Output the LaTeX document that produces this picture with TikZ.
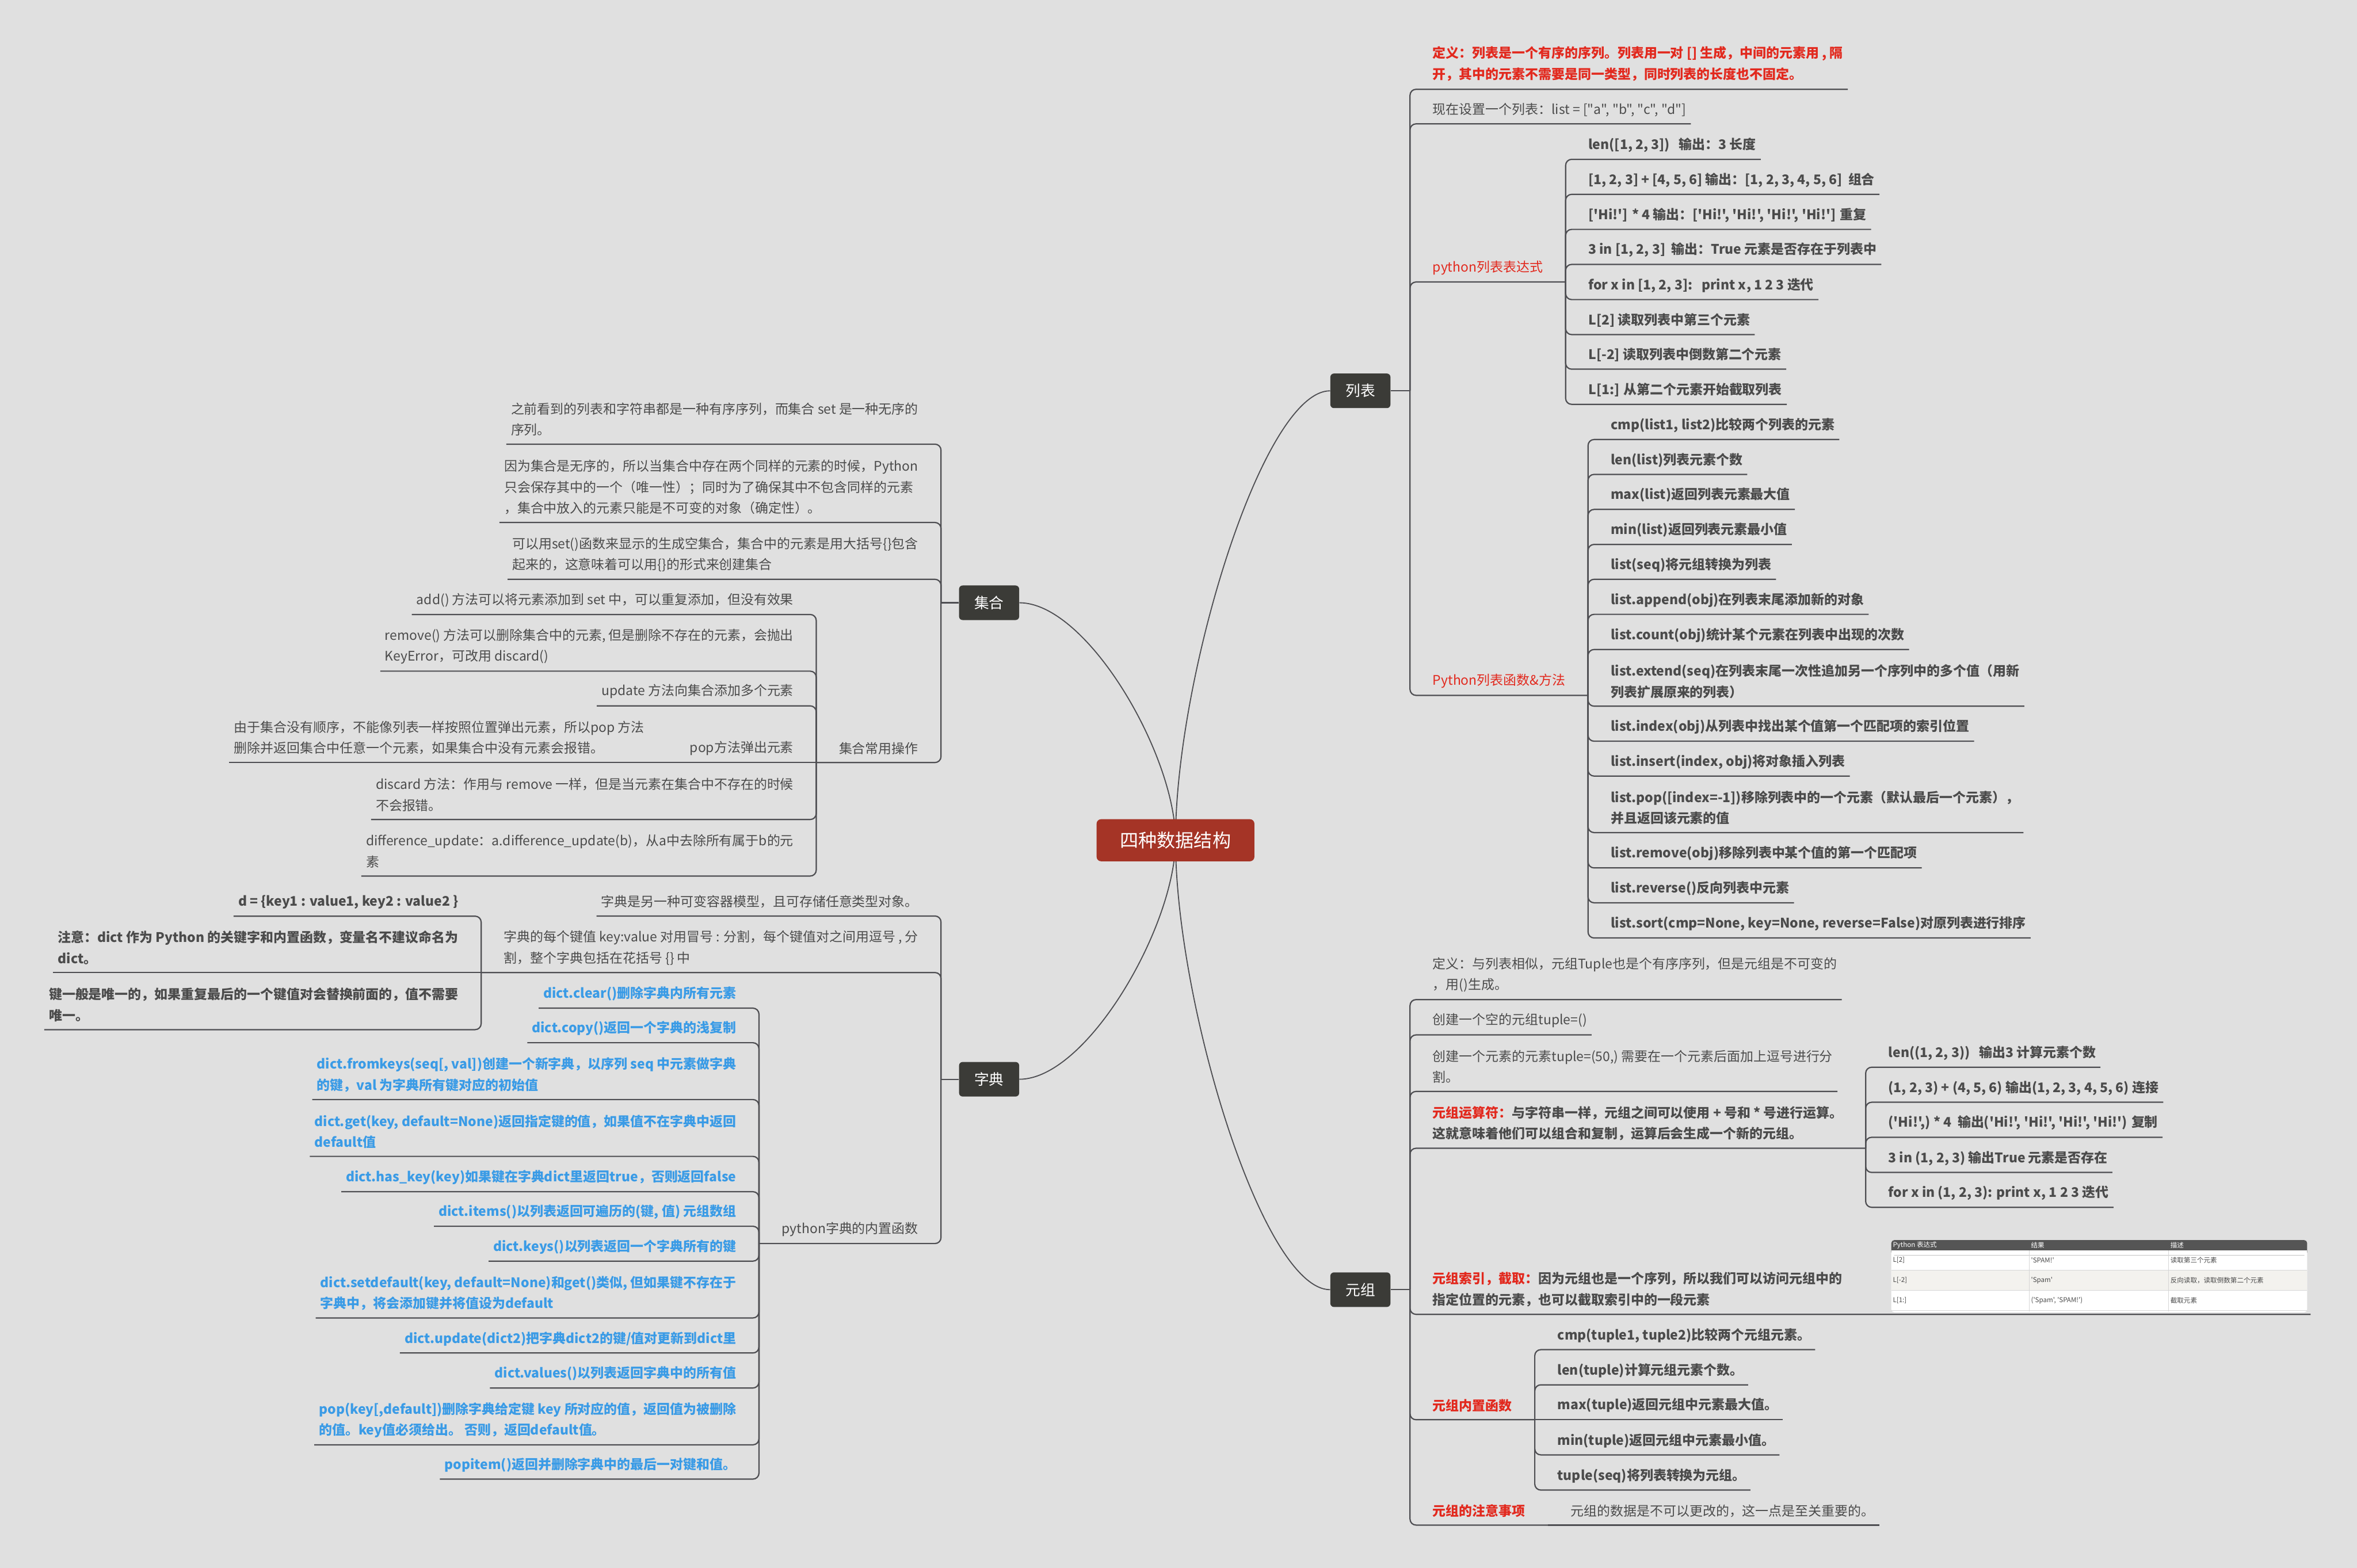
\documentclass[tikz,border=0pt]{standalone}
\usepackage{fontspec}
\newfontfamily\cjk{Noto Sans CJK SC}
\usetikzlibrary{backgrounds}

\definecolor{cBg}{HTML}{E0E0E0}
\definecolor{cLine}{HTML}{4E4E52}
\definecolor{cText}{HTML}{4B4B4B}
\definecolor{cRed}{HTML}{E2291E}
\definecolor{cBlue}{HTML}{3A9BE6}
\definecolor{cRoot}{HTML}{A53426}
\definecolor{cMain}{HTML}{3B3B37}
\definecolor{cHead}{HTML}{555555}
\definecolor{cRow}{HTML}{F3F2EE}
\definecolor{cGrid}{HTML}{D6D6D6}

\def\tfont{\cjk\fontsize{12.5}{19.9}\selectfont}

\begin{document}
\begin{tikzpicture}[x=0.05cm, y=-0.05cm, font=\tfont,
  link/.style={draw=cLine, line width=1.2pt, rounded corners=0.2cm},
  rootlink/.style={draw=cLine, line width=1pt},
  rtopic/.style={anchor=west, inner xsep=0.15cm, inner ysep=0pt, align=left, text=cText},
  ltopic/.style={anchor=east, inner xsep=0.15cm, inner ysep=0pt, align=left, text=cText},
  strong/.style={font=\tfont\bfseries},
  main/.style={fill=cMain, text=white, rounded corners=0.12cm, minimum width=2cm,
    minimum height=1.15cm, inner sep=0pt, font=\cjk\fontsize{14}{16}\selectfont},
  root/.style={fill=cRoot, text=white, rounded corners=0.15cm, minimum width=5.25cm,
    minimum height=1.4cm, inner sep=0pt, font=\cjk\fontsize{17.5}{20}\selectfont},
  tabtxt/.style={anchor=west, inner xsep=0.05cm, inner ysep=0pt, text=cText,
    font=\cjk\fontsize{6.3}{7}\selectfont}]

\useasboundingbox (0,0) rectangle (1568,1043);

\node[root] (root) at (782,559) {四种数据结构};

%% ---------- 列表 ----------
\node[main] (list) at (905,260) {列表};
\coordinate (listJ) at (938,260);
\draw[link] (list) -- (listJ);

\path (listJ |- 0,42.5) ++(12,0) node[rtopic, strong, text=cRed] (lDef)
  {定义：列表是一个有序的序列。列表用一对 [] 生成，中间的元素用 , 隔\\开，其中的元素不需要是同一类型，同时列表的长度也不固定。};
\path (listJ |- 0,73) ++(12,0) node[rtopic] (lSet) {现在设置一个列表：list = ["a", "b", "c", "d"]};
\path (listJ |- 0,178.1) ++(12,0) node[rtopic, text=cRed] (lExpr) {python列表表达式};
\path (listJ |- 0,453.1) ++(12,0) node[rtopic, text=cRed] (lFunc) {Python列表函数\&方法};
\draw[link] (listJ) |- (lDef.east |- 0,59.4);
\draw[link] (listJ) |- (lSet.east |- 0,82.4);
\path (lExpr.east |- 0,187.6) ++(12,0) coordinate (lExprJ);
\path (lFunc.east |- 0,462.6) ++(12,0) coordinate (lFuncJ);
\draw[link] (listJ) |- (lExprJ);
\draw[link] (listJ) |- (lFuncJ);

\foreach \nm/\yc/\uy/\txt in {
  e1/96.5/106/{len([1, 2, 3])\ \ \ 输出：3 长度},
  e2/119.8/129.3/{[1, 2, 3] + [4, 5, 6] 输出：[1, 2, 3, 4, 5, 6]\ \ 组合},
  e3/143.1/152.6/{['Hi!'] * 4 输出：['Hi!', 'Hi!', 'Hi!', 'Hi!'] 重复},
  e4/166.4/175.9/{3 in [1, 2, 3]\ \ 输出：True 元素是否存在于列表中},
  e5/189.8/199.3/{for x in [1, 2, 3]:\ \ \ print x, 1 2 3 迭代},
  e6/213.1/222.6/{L[2] 读取列表中第三个元素},
  e7/236.1/245.6/{L[-2] 读取列表中倒数第二个元素},
  e8/259.5/269/{L[1:] 从第二个元素开始截取列表}} {
  \path (lExprJ |- 0,\yc) ++(12,0) node[rtopic, strong] (\nm) {\txt};
  \draw[link] (lExprJ) |- (\nm.east |- 0,\uy);
}

\foreach \nm/\yc/\uy/\txt in {
  f1/282.9/292.4/{cmp(list1, list2)比较两个列表的元素},
  f2/306.1/315.6/{len(list)列表元素个数},
  f3/329.4/338.9/{max(list)返回列表元素最大值},
  f4/352.7/362.2/{min(list)返回列表元素最小值},
  f5/375.9/385.4/{list(seq)将元组转换为列表},
  f6/399.2/408.7/{list.append(obj)在列表末尾添加新的对象},
  f7/422.6/432.1/{list.count(obj)统计某个元素在列表中出现的次数},
  f8/453.3/469.8/{list.extend(seq)在列表末尾一次性追加另一个序列中的多个值（用新\\列表扩展原来的列表）},
  f9/483.6/493.1/{list.index(obj)从列表中找出某个值第一个匹配项的索引位置},
  f10/506.8/516.3/{list.insert(index, obj)将对象插入列表},
  f11/537.4/553.9/{list.pop([index=-1])移除列表中的一个元素（默认最后一个元素），\\并且返回该元素的值},
  f12/567.9/577.4/{list.remove(obj)移除列表中某个值的第一个匹配项},
  f13/591.1/600.6/{list.reverse()反向列表中元素},
  f14/614.5/624/{list.sort(cmp=None, key=None, reverse=False)对原列表进行排序}} {
  \path (lFuncJ |- 0,\yc) ++(12,0) node[rtopic, strong] (\nm) {\txt};
  \draw[link] (lFuncJ) |- (\nm.east |- 0,\uy);
}

%% ---------- 元组 ----------
\node[main] (tuple) at (905,858) {元组};
\coordinate (tupleJ) at (938,858);
\draw[link] (tuple) -- (tupleJ);

\path (tupleJ |- 0,648.5) ++(12,0) node[rtopic] (tDef)
  {定义：与列表相似，元组Tuple也是个有序序列，但是元组是不可变的\\，用()生成。};
\path (tupleJ |- 0,679) ++(12,0) node[rtopic] (tEmpty) {创建一个空的元组tuple=()};
\path (tupleJ |- 0,709.6) ++(12,0) node[rtopic] (tOne)
  {创建一个元素的元素tuple=(50,) 需要在一个元素后面加上逗号进行分\\割。};
\path (tupleJ |- 0,747.4) ++(12,0) node[rtopic, strong] (tOp)
  {{\color{cRed}元组运算符：}与字符串一样，元组之间可以使用 + 号和 * 号进行运算。\\这就意味着他们可以组合和复制，运算后会生成一个新的元组。};
\path (tupleJ |- 0,857.9) ++(12,0) node[rtopic, strong] (tIdx)
  {{\color{cRed}元组索引，截取：}因为元组也是一个序列，所以我们可以访问元组中的\\指定位置的元素，也可以截取索引中的一段元素};
\path (tupleJ |- 0,935) ++(12,0) node[rtopic, strong, text=cRed] (tFn) {元组内置函数};
\path (tupleJ |- 0,1005.1) ++(12,0) node[rtopic, strong, text=cRed] (tNote) {元组的注意事项};
\draw[link] (tupleJ) |- (tDef.east |- 0,665);
\draw[link] (tupleJ) |- (tEmpty.east |- 0,688.5);
\draw[link] (tupleJ) |- (tOne.east |- 0,726.1);
\path (tOp.east |- 0,763.9) ++(12,0) coordinate (tOpJ);
\path (tFn.east |- 0,944.5) ++(12,0) coordinate (tFnJ);
\path (tNote.east |- 0,1014.6) ++(12,0) coordinate (tNoteJ);
\draw[link] (tupleJ) |- (tOpJ);
\draw[link] (tupleJ) |- (tFnJ);
\draw[link] (tupleJ) |- (tNoteJ);

\foreach \nm/\yc/\uy/\txt in {
  p1/700.5/710/{len((1, 2, 3))\ \ \ 输出3 计算元素个数},
  p2/723.8/733.3/{(1, 2, 3) + (4, 5, 6) 输出(1, 2, 3, 4, 5, 6) 连接},
  p3/747.1/756.6/{('Hi!',) * 4\ \ 输出('Hi!', 'Hi!', 'Hi!', 'Hi!') 复制},
  p4/770.5/780/{3 in (1, 2, 3) 输出True 元素是否存在},
  p5/793.7/803.2/{for x in (1, 2, 3): print x, 1 2 3 迭代}} {
  \path (tOpJ |- 0,\yc) ++(12,0) node[rtopic, strong] (\nm) {\txt};
  \draw[link] (tOpJ) |- (\nm.east |- 0,\uy);
}

%% table beside the index topic
\path (tIdx.east |- 0,825) ++(29.5,0) coordinate (tab);
\begin{scope}[shift={(tab)}]
  \fill[white, rounded corners=0.1cm] (0,0) rectangle (276.7,48);
  \fill[cHead, rounded corners=0.1cm] (0,0) rectangle (276.7,10);
  \fill[white] (0,6.9) rectangle (276.7,10);
  \fill[cRow] (0,20.1) rectangle (276.7,33.3);
  \draw[cGrid, line width=0.4pt] (0,20.1) -- (276.7,20.1) (0,33.3) -- (276.7,33.3)
    (0,46.6) -- (276.7,46.6) (91.9,6.9) -- (91.9,47.5) (184.6,6.9) -- (184.6,47.5);
  \foreach \c/\x/\t in {1/0/{Python 表达式}, 2/91.9/{结果}, 3/184.6/{描述}}
    \node[tabtxt, text=white] (th\c) at (\x,3.45) {\t};
  \foreach \r/\y/\a/\b/\d in {1/13.5/{L[2]}/{'SPAM!'}/{读取第三个元素},
      2/26.7/{L[-2]}/{'Spam'}/{反向读取，读取倒数第二个元素},
      3/40/{L[1:]}/{('Spam', 'SPAM!')}/{截取元素}} {
    \node[tabtxt] (tc\r a) at (0,\y) {\a};
    \node[tabtxt] (tc\r b) at (91.9,\y) {\b};
    \node[tabtxt] (tc\r c) at (184.6,\y) {\d};
  }
  \coordinate (tabE) at (279,49.4);
\end{scope}
\draw[link] (tupleJ) |- (tabE);

\foreach \nm/\yc/\uy/\txt in {
  n1/888.4/897.9/{cmp(tuple1, tuple2)比较两个元组元素。},
  n2/911.8/921.3/{len(tuple)计算元组元素个数。},
  n4/958.4/967.9/{min(tuple)返回元组中元素最小值。},
  n5/981.8/991.3/{tuple(seq)将列表转换为元组。}} {
  \path (tFnJ |- 0,\yc) ++(12,0) node[rtopic, strong] (\nm) {\txt};
  \draw[link] (tFnJ) |- (\nm.east |- 0,\uy);
}
\path (tFnJ |- 0,935) ++(12,0) node[rtopic, strong] (n3) {max(tuple)返回元组中元素最大值。};
\draw[link] (tFnJ) -- (n3.east |- tFnJ);

\path (tNoteJ |- 0,1005.1) ++(12,0) node[rtopic] (tNoteC) {元组的数据是不可以更改的，这一点是至关重要的。};
\draw[link] (tNoteJ) -- (tNoteC.east |- tNoteJ);

%% ---------- 集合 ----------
\node[main] (set) at (658,401) {集合};
\coordinate (setJ) at (626,401);
\draw[link] (set) -- (setJ);

\path (setJ |- 0,279) ++(-12,0) node[ltopic] (sA)
  {之前看到的列表和字符串都是一种有序序列，而集合 set 是一种无序的\\序列。};
\path (setJ |- 0,324.1) ++(-12,0) node[ltopic] (sB)
  {因为集合是无序的，所以当集合中存在两个同样的元素的时候，Python\\只会保存其中的一个（唯一性）；同时为了确保其中不包含同样的元素\\，集合中放入的元素只能是不可变的对象（确定性）。};
\path (setJ |- 0,368.9) ++(-12,0) node[ltopic] (sC)
  {可以用set()函数来显示的生成空集合，集合中的元素是用大括号\{\}包含\\起来的，这意味着可以用\{\}的形式来创建集合};
\path (setJ |- 0,497.8) ++(-12,0) node[ltopic] (sOps) {集合常用操作};
\draw[link] (setJ) |- (sA.west |- 0,295.5);
\draw[link] (setJ) |- (sB.west |- 0,347.6);
\draw[link] (setJ) |- (sC.west |- 0,385.4);
\path (sOps.west |- 0,507.3) ++(-12,0) coordinate (sOpsJ);
\draw[link] (setJ) |- (sOpsJ);

\foreach \nm/\yc/\uy/\txt in {
  o1/399.3/408.8/{add() 方法可以将元素添加到 set 中，可以重复添加，但没有效果},
  o2/430/446.5/{remove() 方法可以删除集合中的元素, 但是删除不存在的元素，会抛出\\KeyError，可改用 discard()},
  o3/460.1/469.6/{update 方法向集合添加多个元素},
  o5/528.7/545.2/{discard 方法：作用与 remove 一样，但是当元素在集合中不存在的时候\\不会报错。},
  o6/566.3/582.8/{difference\_update：a.difference\_update(b)，从a中去除所有属于b的元\\素}} {
  \path (sOpsJ |- 0,\yc) ++(-12,0) node[ltopic] (\nm) {\txt};
  \draw[link] (sOpsJ) |- (\nm.west |- 0,\uy);
}
\path (sOpsJ |- 0,497.8) ++(-12,0) node[ltopic] (o4) {pop方法弹出元素};
\path (o4.west |- sOpsJ) ++(-12,0) coordinate (o4J);
\draw[link] (sOpsJ) -- (o4J);
\path (o4J |- 0,490.8) ++(-12,0) node[ltopic] (o4c)
  {由于集合没有顺序，不能像列表一样按照位置弹出元素，所以pop 方法\\删除并返回集合中任意一个元素，如果集合中没有元素会报错。};
\draw[link] (o4J) -- (o4c.west |- o4J);

%% ---------- 字典 ----------
\node[main] (dict) at (658,718) {字典};
\coordinate (dictJ) at (626,718);
\draw[link] (dict) -- (dictJ);

\path (dictJ |- 0,599.9) ++(-12,0) node[ltopic] (dA) {字典是另一种可变容器模型，且可存储任意类型对象。};
\path (dictJ |- 0,630.5) ++(-12,0) node[ltopic] (dB)
  {字典的每个键值 key:value 对用冒号 : 分割，每个键值对之间用逗号 , 分\\割，整个字典包括在花括号 \{\} 中};
\path (dictJ |- 0,817.8) ++(-12,0) node[ltopic] (dFn) {python字典的内置函数};
\draw[link] (dictJ) |- (dA.west |- 0,609.4);
\path (dB.west |- 0,647) ++(-12,0) coordinate (dBJ);
\path (dFn.west |- 0,827.3) ++(-12,0) coordinate (dFnJ);
\draw[link] (dictJ) |- (dBJ);
\draw[link] (dictJ) |- (dFnJ);

\foreach \nm/\yc/\uy/\txt in {
  dSyn/600/609.5/{d = \{key1 : value1, key2 : value2 \}},
  dKey/668.5/685/{键一般是唯一的，如果重复最后的一个键值对会替换前面的，值不需要\\唯一。}} {
  \path (dBJ |- 0,\yc) ++(-12,0) node[ltopic, strong] (\nm) {\txt};
  \draw[link] (dBJ) |- (\nm.west |- 0,\uy);
}
\path (dBJ |- 0,630.5) ++(-12,0) node[ltopic, strong] (dWarn)
  {注意：dict 作为 Python 的关键字和内置函数，变量名不建议命名为\\dict。};
\draw[link] (dBJ) -- (dWarn.west |- dBJ);

\foreach \nm/\yc/\uy/\txt in {
  k1/661.2/670.7/{dict.clear()删除字典内所有元素},
  k2/684.2/693.7/{dict.copy()返回一个字典的浅复制},
  k3/715/731.5/{dict.fromkeys(seq[, val])创建一个新字典，以序列 seq 中元素做字典\\的键，val 为字典所有键对应的初始值},
  k4/752.8/769.3/{dict.get(key, default=None)返回指定键的值，如果值不在字典中返回\\default值},
  k5/783.3/792.8/{dict.has\_key(key)如果键在字典dict里返回true，否则返回false},
  k6/806.3/815.8/{dict.items()以列表返回可遍历的(键, 值) 元组数组},
  k7/829.5/839/{dict.keys()以列表返回一个字典所有的键},
  k8/860.3/876.8/{dict.setdefault(key, default=None)和get()类似, 但如果键不存在于\\字典中，将会添加键并将值设为default},
  k9/890.6/900.1/{dict.update(dict2)把字典dict2的键/值对更新到dict里},
  k10/913.9/923.4/{dict.values()以列表返回字典中的所有值},
  k11/944.7/961.2/{pop(key[,default])删除字典给定键 key 所对应的值，返回值为被删除\\的值。key值必须给出。 否则，返回default值。},
  k12/974.5/984/{popitem()返回并删除字典中的最后一对键和值。}} {
  \path (dFnJ |- 0,\yc) ++(-12,0) node[ltopic, strong, text=cBlue] (\nm) {\txt};
  \draw[link] (dFnJ) |- (\nm.west |- 0,\uy);
}

%% ---------- background and the four curved branches ----------
\begin{pgfonlayer}{background}
  \fill[cBg] (0,0) rectangle (1568,1043);
  \draw[rootlink] (root.center) .. controls +(0,-108) and +(-45,0) .. (list.west);
  \draw[rootlink] (root.center) .. controls +(0,108) and +(-45,0) .. (tuple.west);
  \draw[rootlink] (root.center) .. controls +(0,-57) and +(45,0) .. (set.east);
  \draw[rootlink] (root.center) .. controls +(0,57) and +(45,0) .. (dict.east);
\end{pgfonlayer}

\end{tikzpicture}
\end{document}
